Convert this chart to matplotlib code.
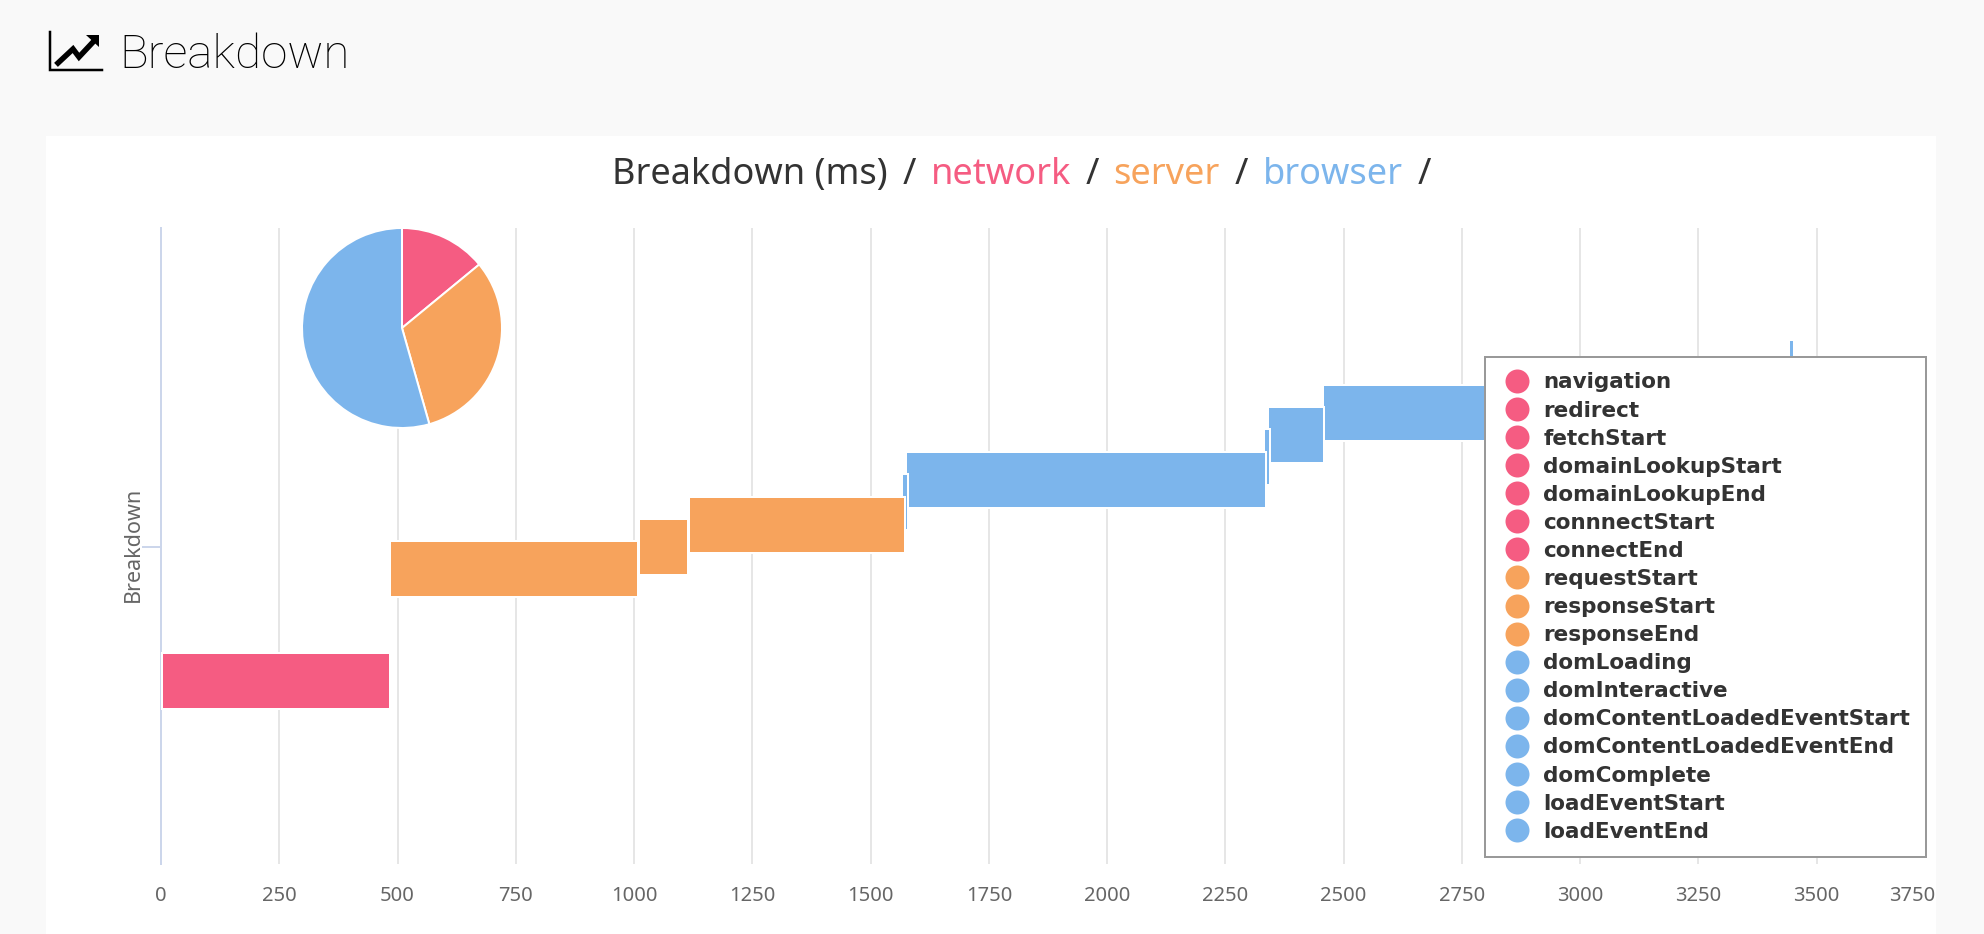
import matplotlib
matplotlib.use('Agg')
import matplotlib.pyplot as plt
from matplotlib.lines import Line2D
from matplotlib.patches import Rectangle, Polygon

W, H = 1984, 934

names = ['navigation', 'redirect', 'fetchStart', 'domainLookupStart', 'domainLookupEnd',
         'connnectStart', 'connectEnd', 'requestStart', 'responseStart', 'responseEnd',
         'domLoading', 'domInteractive', 'domContentLoadedEventStart',
         'domContentLoadedEventEnd', 'domComplete', 'loadEventStart', 'loadEventEnd']
groups = ['network'] * 7 + ['server'] * 3 + ['browser'] * 7
starts = [0, 0, 2, 0, 0, 0, 0, 484, 1010, 1116, 1566, 1574, 2332, 2341, 2457, 3441, 3441]
ends = [0, 0, 484, 0, 0, 0, 0, 1008, 1114, 1573, 1580, 2335, 2344, 2458, 3441, 3446, 3452]

pie_labels = ['network', 'server', 'browser']
pie_values = [484, 1087, 1875]
xticks = [0, 250, 500, 750, 1000, 1250, 1500, 1750, 2000, 2250, 2500, 2750, 3000, 3250, 3500, 3750]

title_words = ['Breakdown (ms)', '/', 'network', '/', 'server', '/', 'browser', '/']
title_keys = ['text', 'text', 'network', 'text', 'server', 'text', 'browser', 'text']

colors = {'network': '#f55c82', 'server': '#f7a35c', 'browser': '#7cb5ec', 'text': '#333333'}
BG = '#f9f9f9'
DARK = '#333333'


def box(x0, y0, x1, y1):
    # pixel box (top-left origin) to figure fractions
    return [x0 / W, 1 - y1 / H, (x1 - x0) / W, (y1 - y0) / H]


def px(v):
    return v * 0.72


plt.rcParams['font.family'] = ['Noto Sans', 'DejaVu Sans']

fig = plt.figure(figsize=(W / 100, H / 100), dpi=100, facecolor=BG)
fig.patches.append(Rectangle((46 / W, 0), 1890 / W, 1 - 136 / H, transform=fig.transFigure,
                             facecolor='white', edgecolor='none', zorder=-5))

# page heading with the little chart icon
fig.text(119 / W, 1 - 68 / H, 'Breakdown', fontsize=34.2, family=['Roboto', 'DejaVu Sans'],
         fontweight='light', color='black', va='baseline')
ink = 'black'
fig.add_artist(Line2D([50 / W, 50 / W, 102 / W], [1 - 32 / H, 1 - 70 / H, 1 - 70 / H],
                      color=ink, lw=px(2.5), solid_joinstyle='miter'))
fig.add_artist(Line2D([58 / W, 73 / W, 79 / W, 94 / W], [1 - 63 / H, 1 - 49 / H, 1 - 57 / H, 1 - 41 / H],
                      color=ink, lw=px(5.5), solid_joinstyle='miter'))
fig.add_artist(Polygon([(86 / W, 1 - 35 / H), (99 / W, 1 - 35 / H), (99 / W, 1 - 47 / H)],
                       closed=True, transform=fig.transFigure, facecolor=ink, edgecolor='none'))

# chart title, one piece per colour, laid end to end
rend = fig.canvas.get_renderer()
cur = 612.0
for word, key in zip(title_words, title_keys):
    t = fig.text(cur / W, 1 - 184 / H, word, fontsize=26, color=colors[key], va='baseline')
    cur += t.get_window_extent(rend).width + 14.7

ax = fig.add_axes(box(161, 228, 1935, 864))
ax.set_facecolor('none')
ax.set_xlim(0, 3750)
ax.set_ylim(-317 / 636, 319 / 636)

slot = 22.4 / 636
bar_h = 56 / 636
for i, (s, e, g) in enumerate(zip(starts, ends, groups)):
    if e <= s:
        continue
    # earlier series sit on top of later ones
    ax.barh((i - 8) * slot, e - s, left=s, height=bar_h, color=colors[g], edgecolor='white',
            linewidth=px(2), zorder=3 - i * 0.01)

ax.set_xticks(xticks)
ax.xaxis.grid(True, color='#e6e6e6', lw=px(2), zorder=1)
ax.set_axisbelow(True)
ax.xaxis.get_gridlines()[-1].set_visible(False)
ax.tick_params(axis='x', length=0, pad=15.5, labelsize=14.5, labelcolor='#666666')
ax.get_xticklabels()[-1].set_ha('right')
ax.set_yticks([0])
ax.set_yticklabels([''])
ax.tick_params(axis='y', length=px(19), width=px(2), color='#ccd6eb')
for name in ['top', 'right', 'bottom']:
    ax.spines[name].set_visible(False)
ax.spines['left'].set_color('#ccd6eb')
ax.spines['left'].set_linewidth(px(2))
ax.set_ylabel('Breakdown', fontsize=15.5, color='#666666')
ax.yaxis.set_label_coords(-17 / 1774, 0.503)

handles = [Line2D([], [], linestyle='none', marker='o', markersize=px(24), markeredgewidth=0,
                  color=colors[g]) for g in groups]
leg = ax.legend(handles, names, loc='upper left',
                bbox_to_anchor=((1485 - 161) / 1774, (864 - 357) / 636),
                prop={'weight': 'bold', 'size': 15.5, 'family': 'DejaVu Sans'}, labelcolor=DARK, frameon=True,
                fancybox=False, framealpha=1, facecolor='white', edgecolor='#999999',
                borderaxespad=0, labelspacing=0.375, handlelength=1.54, handletextpad=0.45,
                borderpad=0.72)
leg.get_frame().set_linewidth(px(2))
leg.set_zorder(10)

pie_ax = fig.add_axes(box(302, 228, 502, 428))
pie_ax.pie(pie_values, startangle=90, counterclock=False, radius=1,
           colors=[colors[k] for k in pie_labels],
           wedgeprops={'edgecolor': 'white', 'linewidth': px(2)})
pie_ax.set_xlim(-1, 1)
pie_ax.set_ylim(-1, 1)

fig.savefig('out.png', dpi=100, facecolor=BG)
